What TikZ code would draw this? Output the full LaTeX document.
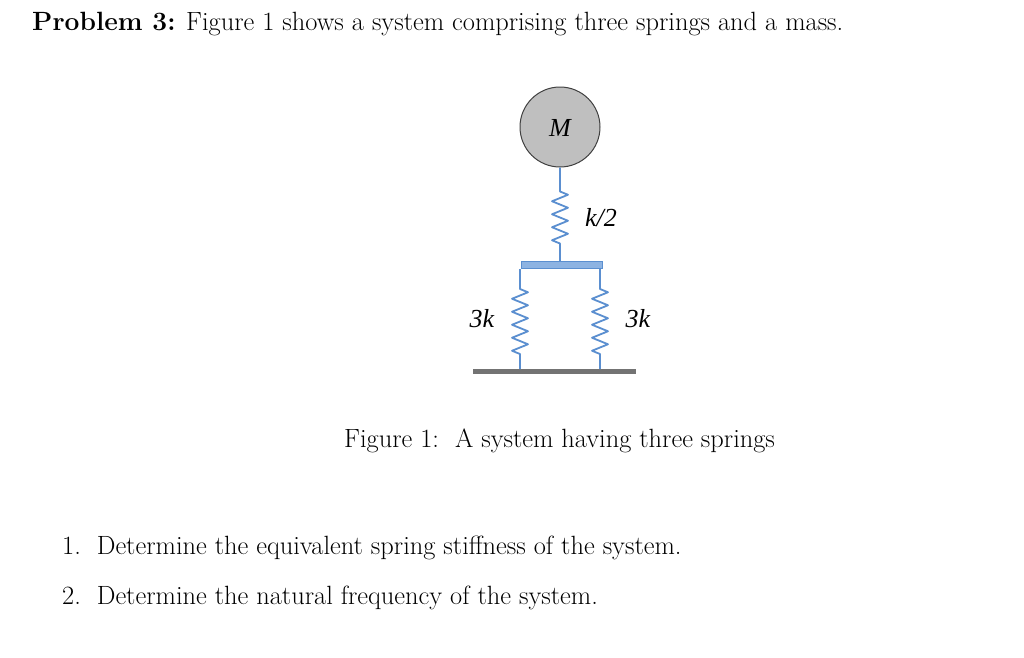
\documentclass[tikz,border=0pt]{standalone}
\usepackage{fontspec}
\setmainfont{Latin Modern Roman}
\newfontfamily\tnr{Liberation Serif}
\usetikzlibrary{decorations.pathmorphing}
\definecolor{springc}{HTML}{5B8FD0}
\definecolor{barc}{HTML}{8DB3E2}
\begin{document}
\begin{tikzpicture}[x=1pt,y=-1pt,
  springline/.style={draw=springc, line width=1.8pt, line join=round, decorate,
    decoration={zigzag,amplitude=8pt,segment length=13pt,pre length=24pt,post length=17pt}},
  txt/.style={anchor=base west,inner sep=0pt,font=\fontsize{26.4}{30}\selectfont},
  lab/.style={font=\tnr\itshape\fontsize{26}{30}\selectfont,inner sep=0pt}]
\useasboundingbox (0,0) rectangle (1024,657);
\node[txt] (title) at (32,30) {\textbf{Problem 3:} Figure 1 shows a system comprising three springs and a mass.};
\node[circle,draw=black!75,fill=black!25,minimum size=80pt,inner sep=0pt,line width=1pt] (M) at (560,127) {};
\node[lab] (Ml) at (560,128) {M};
\node[rectangle,fill=barc,draw=springc,line width=1pt,minimum width=81pt,minimum height=7pt,inner sep=0pt] (bar) at (562,265) {};
\node[rectangle,fill=black!55,minimum width=163pt,minimum height=5pt,inner sep=0pt] (gnd) at (554,371) {};
\coordinate (tl) at (520,269);
\coordinate (tr) at (600,269);
\coordinate (bl) at (520,369);
\coordinate (br) at (600,369);
\draw[springline] (M.south) -- (bar.north -| M.south);
\draw[springline,decoration={pre length=20pt,post length=14pt}] (tl) -- (bl);
\draw[springline,decoration={pre length=20pt,post length=14pt}] (tr) -- (br);
\node[lab] (k2) at (601,218) {k/2};
\node[lab] (k3l) at (482,319) {3k};
\node[lab] (k3r) at (638,319) {3k};
\node[txt] (cap) at (344,447) {Figure 1:\ \ A system having three springs};
\node[txt] (q1) at (62,554) {1.\ \ Determine the equivalent spring stiffness of the system.};
\node[txt] (q2) at (62,604) {2.\ \ Determine the natural frequency of the system.};
\end{tikzpicture}
\end{document}
